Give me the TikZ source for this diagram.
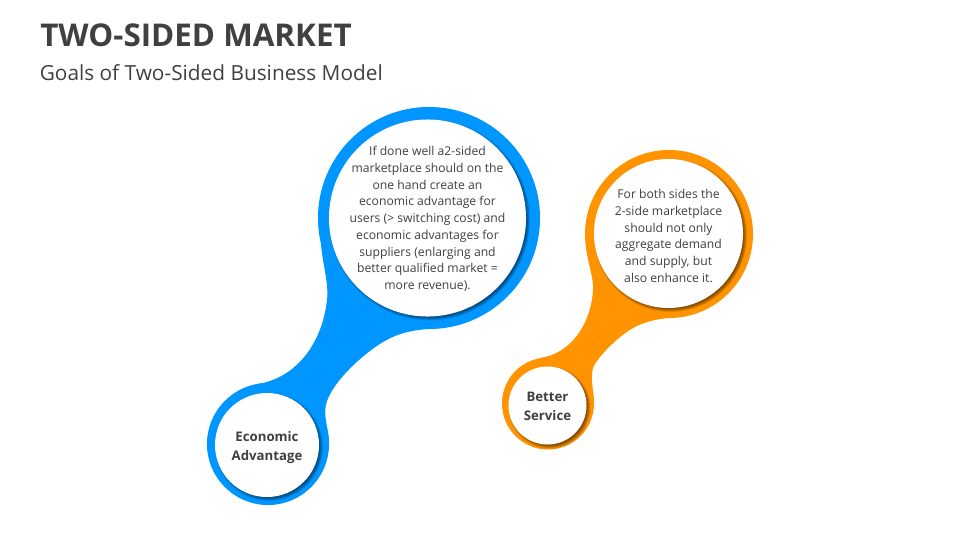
\documentclass[tikz,border=0pt]{standalone}
\usepackage{fontspec}
\setmainfont{Open Sans}
\usetikzlibrary{calc}

\definecolor{ringblue}{HTML}{0096FF}
\definecolor{ringorange}{HTML}{FF9300}
\definecolor{inkgray}{HTML}{404040}

\tikzset{
	ring/.style={circle, draw=none, inner sep=0pt},
	face/.style={circle, draw=none, fill=white, inner sep=0pt},
	bodytext/.style={align=center, text=inkgray, inner sep=0pt, font=\fontsize{8.65}{11.9}\selectfont},
	tagtext/.style={align=center, text=inkgray, inner sep=0pt, font=\fontsize{9.4}{13.5}\selectfont\bfseries}
}

% soft shadow under a white face: centre, radius
\newcommand{\faceshadow}[2]{
	\foreach \k in {0,...,5}
		\fill[black, opacity=0.1] ($(#1) + (2,2)$) circle ({#2 + 2 - 0.7*\k});
}

\begin{document}
\begin{tikzpicture}[x=0.025cm, y=-0.025cm]
	\useasboundingbox (0,0) rectangle (960,540);
	\fill[white] (0,0) rectangle (960,540);

	\node[anchor=base west, inner sep=0pt, text=inkgray, font=\fontsize{22.3}{26}\selectfont\bfseries] (title) at (40,46) {TWO-SIDED MARKET};
	\node[anchor=base west, inner sep=0pt, text=inkgray, font=\fontsize{14.8}{18}\selectfont] (subtitle) at (39.5,80) {Goals of Two-Sided Business Model};

	% blue pair
	\fill[ringblue] (321,245) .. controls (323,265) and (329,285) .. (327,300)
		.. controls (322,345) and (295,378) .. (258,384) -- (268,444) -- (329,444)
		.. controls (329,428) and (322,415) .. (327,401)
		.. controls (335,378) and (372,345) .. (395,336)
		.. controls (405,332) and (415,330) .. (428,329) -- cycle;
	\coordinate (bc) at (429,218);
	\coordinate (sc) at (268,444);
	\node[ring, fill=ringblue, minimum size=5.55cm] (bigblue) at (bc) {};
	\node[ring, fill=ringblue, minimum size=3.05cm] (smallblue) at (sc) {};
	\coordinate (bf) at (427.5,218);
	\coordinate (sf) at (267,445);
	\faceshadow{bf}{98.5}
	\faceshadow{sf}{52}
	\node[face, minimum size=4.925cm] (bigblueface) at (bf) {};
	\node[face, minimum size=2.6cm] (smallblueface) at (sf) {};
	\node[bodytext] (bigbluetext) at ($(bf) + (0,1)$) {If done well a2-sided\\marketplace should on the\\one hand create an\\economic advantage for\\users (> switching cost) and\\economic advantages for\\suppliers (enlarging and\\better qualified market =\\more revenue).};
	\node[tagtext] (smallbluetext) at ($(sf) + (0,3)$) {Economic\\Advantage};

	% orange pair
	\fill[ringorange] (586,245) .. controls (587,262) and (594,278) .. (593,290)
		.. controls (591,325) and (570,354) .. (540,358) -- (548,403) -- (594,403)
		.. controls (594,392) and (590,380) .. (593,368)
		.. controls (597,357) and (620,335) .. (633,328)
		.. controls (642,323) and (655,319) .. (669,318) -- cycle;
	\coordinate (bo) at (669,234);
	\coordinate (so) at (548,403.5);
	\node[ring, fill=ringorange, minimum size=4.2cm] (bigorange) at (bo) {};
	\node[ring, fill=ringorange, minimum size=2.3cm] (smallorange) at (so) {};
	\coordinate (fo) at (668.5,233.5);
	\coordinate (go) at (547.5,405.5);
	\faceshadow{fo}{74.5}
	\faceshadow{go}{39}
	\node[face, minimum size=3.725cm] (bigorangeface) at (fo) {};
	\node[face, minimum size=1.95cm] (smallorangeface) at (go) {};
	\node[bodytext] (bigorangetext) at ($(fo) + (0,2.5)$) {For both sides the\\2-side marketplace\\should not only\\aggregate demand\\and supply, but\\also enhance it.};
	\node[tagtext] (smallorangetext) at ($(go) + (0,0.5)$) {Better\\Service};
\end{tikzpicture}
\end{document}
